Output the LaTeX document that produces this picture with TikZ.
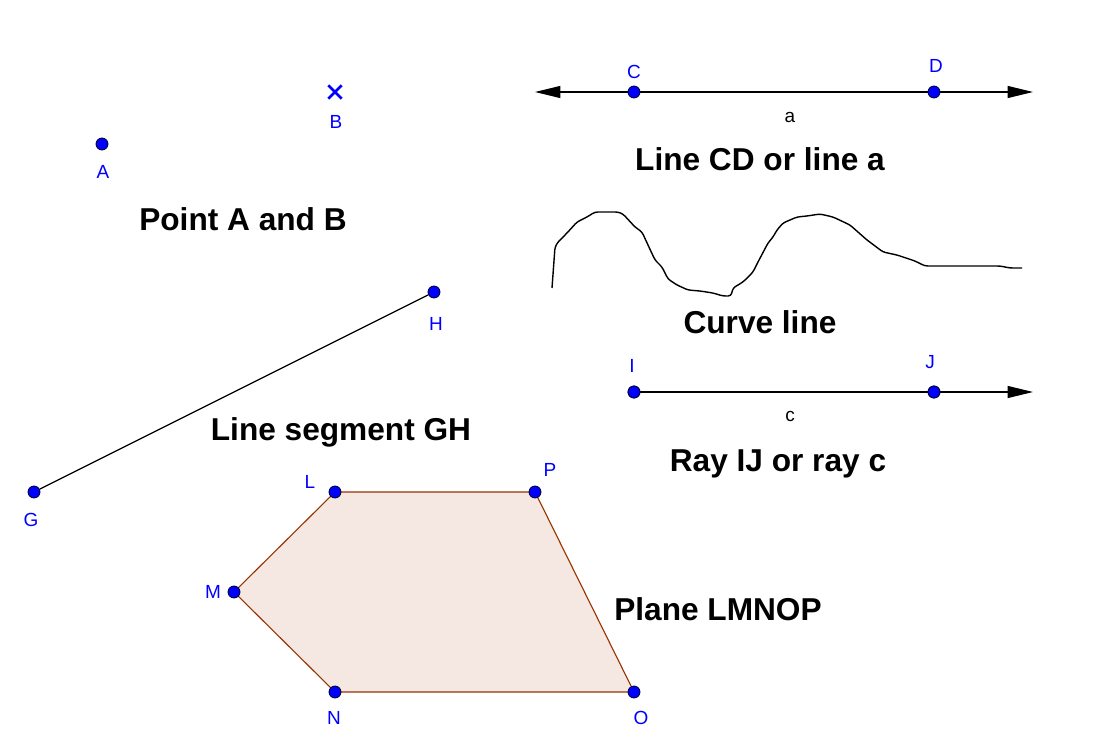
\documentclass[tikz,border=0pt]{standalone}
\usepackage{fontspec}
\setmainfont{Liberation Sans}
\usetikzlibrary{arrows.meta,shapes.misc}
\definecolor{ptblue}{RGB}{0,0,255}
\definecolor{edge}{RGB}{153,51,0}
\definecolor{plane}{RGB}{245,232,227}
\begin{document}
\begin{tikzpicture}[x=0.025cm,y=-0.025cm,
  pt/.style={circle,draw=black!80!blue,fill=ptblue,inner sep=0pt,minimum size=8.5pt,line width=0.6pt},
  lab/.style={text=ptblue,font=\fontsize{13.5}{15}\selectfont},
  title/.style={font=\fontsize{22.5}{26}\selectfont\bfseries},
  arr/.style={-{Triangle[length=18pt,width=8.5pt]}},
  ln/.style={line width=0.8pt}]
\useasboundingbox (0,0) rectangle (1100,742);
% plane
\fill[plane] (335,492) -- (535,492) -- (634,692) -- (335,692) -- (234,592) -- cycle;
\draw[edge,line width=0.8pt] (335,492) -- (535,492) -- (634,692) -- (335,692) -- (234,592) -- cycle;
% points A B
\node[pt] (A) at (102,144) {};
\node[lab] (Al) at (103,172) {A};
\node[cross out,draw=ptblue,line width=2pt,inner sep=0pt,minimum size=7.5pt] (B) at (335,92) {};
\node[lab] (Bl) at (336,122) {B};
\node[title] (t1) at (243,219) {Point A and B};
% line CD
\coordinate (lL) at (535,92);
\coordinate (lR) at (1033,92);
\draw[ln,{Triangle[length=18pt,width=8.5pt]}-{Triangle[length=18pt,width=8.5pt]}] (lL) -- (lR);
\node[pt] (C) at (634,92) {};
\node[pt] (D) at (934,92) {};
\node[lab] (Cl) at (634,72) {C};
\node[lab] (Dl) at (936,66) {D};
\node[font=\fontsize{13.5}{15}\selectfont] (a) at (790,117) {a};
\node[title] (t2) at (760,159) {Line CD or line a};
% curve
\draw[line width=1pt,line join=round,rounded corners=2pt] (552,288) -- (555,247) -- (558,242) -- (567,233) -- (577,222) -- (587,217) -- (595,212) -- (618,212) -- (623,214) -- (635,227) -- (642,232) -- (648,245) -- (655,260) -- (662,267) -- (668,279) -- (677,285) -- (688,290) -- (700,291) -- (713,293) -- (723,296) -- (731,296) -- (733,288) -- (743,282) -- (753,272) -- (758,262) -- (768,243) -- (773,237) -- (777,230) -- (783,223) -- (797,217) -- (807,216) -- (820,214) -- (833,217) -- (850,225) -- (867,240) -- (883,252) -- (897,255) -- (915,261) -- (925,266) -- (1000,266) -- (1010,268) -- (1022,268);
\node[title] (t3) at (760,322) {Curve line};
% ray IJ
\node[pt] (I) at (634,392) {};
\node[pt] (J) at (934,392) {};
\coordinate (rR) at (1033,392);
\draw[ln,arr] (I.center) -- (rR);
\node[pt] at (634,392) {};
\node[pt] at (934,392) {};
\node[lab] (Il) at (632,366) {I};
\node[lab] (Jl) at (930,362) {J};
\node[font=\fontsize{13.5}{15}\selectfont] (c) at (790,416) {c};
\node[title] (t4) at (778,464) {Ray IJ or ray c};
% segment GH
\node[pt] (G) at (34,492) {};
\node[pt] (H) at (434,292) {};
\draw[ln] (G) -- (H);
\node[lab] (Gl) at (31,520) {G};
\node[lab] (Hl) at (436,324) {H};
\node[title] (t5) at (341,432) {Line segment GH};
% plane points
\node[pt] (L) at (335,492) {};
\node[pt] (P) at (535,492) {};
\node[pt] (M) at (234,592) {};
\node[pt] (N) at (335,692) {};
\node[pt] (O) at (634,692) {};
\node[lab] (Ll) at (310,482) {L};
\node[lab] (Pl) at (550,470) {P};
\node[lab] (Ml) at (213,592) {M};
\node[lab] (Nl) at (334,718) {N};
\node[lab] (Ol) at (641,718) {O};
\node[title] (t6) at (718,609) {Plane LMNOP};
\end{tikzpicture}
\end{document}
